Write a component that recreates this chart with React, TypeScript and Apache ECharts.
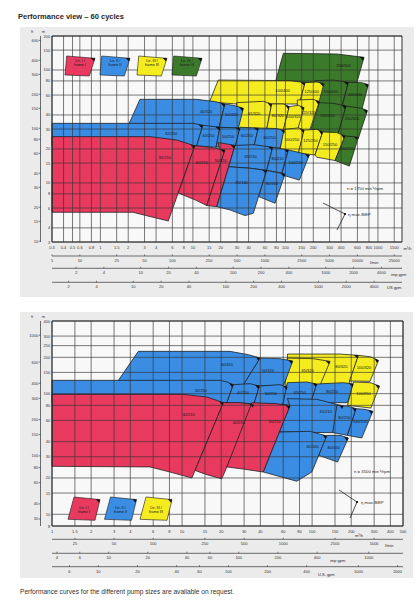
import React, { useEffect, useRef } from "react";
import * as echarts from "echarts";

type Pt = [number, number];
type Region = { size: string; frame: number; outline: Pt[] };
type FlowRow = { ticks: number[]; factor: number; offset: number };
type Spec = {
  grid: number; qMin: number; qMax: number; hMin: number; hMax: number;
  flowTicks: number[]; headTicks: number[]; feetTicks: number[]; rows: FlowRow[];
};

const titleText = "Performance view – 60 cycles";
const footerText = "Performance curves for the different pump sizes are available on request.";

const frameColors = ["#e83a5e", "#3a8de3", "#f5ec20", "#3c7a2b"];
const frameLabels = [["Ltr. I /", "frame I"], ["Ltr. II /", "frame II"], ["Ltr. III /", "frame III"], ["Ltr. IV /", "frame IV"]];

// unit conversions to m³/h and m
const M3H_PER_LMIN = 0.06;
const M3H_PER_IMPGPM = 0.272765;
const M3H_PER_USGPM = 0.227125;
const M_PER_FT = 0.3048;

// ---- 1750 rpm chart axes ----
const flow1750Ticks = [0.3, 0.4, 0.5, 0.6, 0.8, 1, 1.5, 2, 3, 4, 6, 8, 10, 15, 20, 30, 40, 60, 80, 100, 150, 200, 300, 400, 600, 800, 1000, 1500];
const head1750Ticks = [3, 4, 6, 8, 10, 15, 20, 30, 40, 60, 80, 100, 150, 200];
const feet1750Ticks = [10, 15, 20, 30, 40, 60, 80, 100, 150, 200, 300, 400, 600];
const lmin1750Ticks = [5, 10, 25, 50, 100, 250, 500, 1000, 2500, 5000, 10000, 25000];
const imp1750Ticks = [2, 4, 10, 20, 40, 100, 200, 400, 1000, 2000, 4000];
const us1750Ticks = [2, 4, 10, 20, 40, 100, 200, 400, 1000, 2000, 4000];

// ---- 3500 rpm chart axes ----
const flow3500Ticks = [1, 1.5, 2, 3, 4, 6, 8, 10, 15, 20, 30, 40, 60, 80, 100, 150, 200, 300, 400, 500];
const head3500Ticks = [8, 10, 15, 20, 30, 40, 60, 80, 100, 150, 200, 250, 300, 400];
const feet3500Ticks = [30, 40, 60, 80, 100, 150, 200, 300, 400, 600, 1000];
const lmin3500Ticks = [25, 50, 100, 250, 500, 1000, 2500, 5000];
const imp3500Ticks = [4, 6, 10, 20, 40, 60, 100, 200, 400, 1000];
const us3500Ticks = [6, 10, 20, 40, 60, 100, 200, 400, 1000, 2000];

// ---- pump size ranges, Q [m³/h], H [m], back to front ----
const regions1750: Region[] = [
  { size: "200/500", frame: 4, outline: [[77.2, 76.2], [95, 140.5], [358, 138.6], [707, 129.5], [589, 76.2]] },
  { size: "150/400", frame: 4, outline: [[209, 80.5], [330, 81.5], [479, 77.8], [406, 47.4], [200, 47.4]] },
  { size: "200/400", frame: 4, outline: [[479, 77.8], [668, 77.3], [788, 74.2], [668, 44.3], [406, 45.8]] },
  { size: "100/400", frame: 3, outline: [[15.1, 52.1], [18.8, 81.5], [112, 80.5], [163, 77.3], [141.5, 50], [29.7, 50]] },
  { size: "125/400", frame: 3, outline: [[163, 77.3], [218, 78.3], [261, 75.7], [227, 50], [141.5, 50]] },
  { size: "40/320", frame: 2, outline: [[1.96, 31.1], [2.68, 55], [11, 55], [17.3, 52.5], [22.2, 50], [19.2, 31.1]] },
  { size: "65/320", frame: 3, outline: [[29.7, 51.4], [57.7, 52.8], [71, 50], [62.7, 29.8], [31, 29.8]] },
  { size: "50/320", frame: 2, outline: [[22.2, 50], [28.5, 48.3], [35.1, 45.8], [31, 30.5], [19.2, 31.1]] },
  { size: "80/320", frame: 3, outline: [[71, 50], [95, 50], [110, 47.4], [95, 29.4], [62.7, 29.8]] },
  { size: "125/320", frame: 3, outline: [[134.6, 54.3], [200, 55], [233, 52.5], [178, 27.5], [134.6, 27.5]] },
  { size: "100/320", frame: 3, outline: [[110, 47.4], [138, 48.7], [159, 46.4], [135, 29.4], [95, 29.4]] },
  { size: "150/320", frame: 4, outline: [[233, 51.4], [330, 50.7], [452, 48], [365, 25.7], [178, 25.7]] },
  { size: "200/320", frame: 4, outline: [[452, 48], [668, 45.8], [769, 43.7], [614, 24.8], [358, 26.6], [383, 29.4]] },
  { size: "32/250", frame: 2, outline: [[0.3, 33.7], [10.1, 33.7], [12.8, 32.4], [11, 21.3], [0.3, 21.3]] },
  { size: "40/250", frame: 2, outline: [[12.8, 32.4], [19.6, 31.1], [17.8, 20.7], [11, 21.3]] },
  { size: "50/250", frame: 2, outline: [[19.6, 31.1], [32.3, 30.7], [28.8, 21.3], [17.8, 20.7]] },
  { size: "65/250", frame: 2, outline: [[32.3, 31.1], [51, 30.7], [45.8, 21.3], [28.8, 21.3]] },
  { size: "80/250", frame: 2, outline: [[51, 30.7], [80.5, 30.3], [99, 29], [87.4, 20.3], [45.8, 21.3]] },
  { size: "100/250", frame: 3, outline: [[96.6, 29.8], [138, 30.7], [159, 29.4], [138, 18.3], [87.4, 19.6]] },
  { size: "125/250", frame: 3, outline: [[159, 29.4], [218, 29.8], [253, 28.3], [209, 17.7], [138, 18.3]] },
  { size: "150/250", frame: 3, outline: [[253, 28.3], [358, 27.9], [441, 26.1], [344, 15.8], [218, 16.9], [209, 17.7]] },
  { size: "200/250", frame: 4, outline: [[441, 26.1], [614, 25.4], [491, 14.1], [344, 15.8]] },
  { size: "32/210", frame: 1, outline: [[0.3, 25.7], [3.44, 25.7], [6.68, 24], [10.5, 21.3], [5.42, 4.61], [3.44, 5.04], [2.25, 5.5], [0.3, 5.5]] },
  { size: "40/210", frame: 1, outline: [[10.5, 21.3], [15.3, 20.7], [22.2, 19.6], [14.1, 6.3], [11, 6.98], [6.96, 8.15]] },
  { size: "50/210", frame: 1, outline: [[18.8, 22.8], [28.5, 21.5], [18.1, 6.17], [14.1, 6.3], [22.2, 19.6], [19.3, 19.7]] },
  { size: "65/210", frame: 2, outline: [[28.5, 21.5], [45.8, 21.8], [72.8, 20.7], [62.7, 12.9], [41.4, 13.5], [24.4, 13.9]] },
  { size: "80/210", frame: 2, outline: [[72.8, 20.7], [107.6, 19.6], [91.1, 12.2], [62.7, 12.9]] },
  { size: "100/210", frame: 2, outline: [[107.6, 19.6], [181.5, 17.7], [141.5, 10.6], [91.1, 11.8]] },
  { size: "65/160", frame: 2, outline: [[24.4, 13.9], [41.4, 13.5], [62.7, 12.9], [45, 5.39], [36.6, 5.14], [25.2, 5.77], [18.1, 6.17]] },
  { size: "80/160", frame: 2, outline: [[62.7, 12.9], [99, 12], [77.2, 6.61], [51.4, 7.57]] },
];

const regions3500: Region[] = [
  { size: "40/320", frame: 2, outline: [[3.24, 128.9], [4.61, 224.1], [23.4, 224.1], [32.4, 210.2], [39.8, 197.3], [29.3, 115.7], [3.24, 115.7]] },
  { size: "80/320", frame: 3, outline: [[64.6, 212.9], [164, 212.9], [227, 207.6], [190, 117.2], [64.6, 117.2]] },
  { size: "65/320", frame: 3, outline: [[64.6, 197.3], [102, 194.9], [137.5, 185.1], [115, 117.2], [62, 117.2]] },
  { size: "100/320", frame: 3, outline: [[227, 207.6], [279, 202.4], [324, 188.7], [279, 126.5], [194, 127.3]] },
  { size: "50/320", frame: 2, outline: [[39.8, 197.3], [56.7, 194.9], [71, 186.3], [60.2, 115.7], [29.3, 115.7]] },
  { size: "32/250", frame: 2, outline: [[1, 128.9], [19.6, 128.9], [22.1, 124.9], [24.8, 118.7], [22.1, 84.2], [1, 84.2]] },
  { size: "40/250", frame: 2, outline: [[24.8, 118.7], [33.4, 120.9], [39.3, 115.7], [35.8, 82.6], [22.1, 84.2]] },
  { size: "50/250", frame: 2, outline: [[39.3, 115.7], [56.7, 118.7], [64.6, 113.5], [59.5, 81], [35.8, 82.6]] },
  { size: "65/250", frame: 2, outline: [[64.6, 123.3], [91, 124.9], [108.6, 120.2], [97.7, 84.2], [59.5, 81]] },
  { size: "80/250", frame: 2, outline: [[108.6, 120.2], [174, 123.3], [208, 120.2], [187, 84.2], [97.7, 84.2]] },
  { size: "100/250", frame: 3, outline: [[208, 124.9], [279, 123.3], [330, 115.7], [283, 76], [187, 80]] },
  { size: "32/210", frame: 1, outline: [[1, 98.7], [10.2, 98.7], [15.5, 93.8], [20.8, 84.2], [11.9, 20], [8.08, 22.4], [5.67, 24.7], [1, 25]] },
  { size: "40/210", frame: 1, outline: [[20.8, 84.2], [27.9, 84.2], [35.8, 81], [20.2, 19.7], [15.5, 21.3], [12.6, 23.1]] },
  { size: "50/210", frame: 1, outline: [[34.5, 84.2], [53.5, 82.6], [67.7, 79], [42.2, 22.4], [30.5, 23.6], [22.1, 24.7]] },
  { size: "65/210", frame: 2, outline: [[64.6, 90.9], [108.6, 89.7], [174, 79], [144, 47.5], [56.1, 48.1], [67.7, 79]] },
  { size: "80/210", frame: 2, outline: [[155, 80], [185, 79], [218, 75.1], [187, 45.1], [144, 47.5]] },
  { size: "100/210", frame: 2, outline: [[218, 75.1], [256, 74.1], [293, 71.4], [241, 42.9], [187, 45.1]] },
  { size: "65/160", frame: 2, outline: [[56.1, 48.1], [96.5, 48.7], [130, 44.6], [99.4, 22.4], [76.2, 18.8], [42.2, 22.4]] },
  { size: "80/160", frame: 2, outline: [[130, 45.1], [164, 45.1], [190, 42.9], [157, 27.1], [112.5, 30.8]] },
];

const spec1750: Spec = {
  grid: 0, qMin: 0.3, qMax: 1820, hMin: 3, hMax: 200,
  flowTicks: flow1750Ticks, headTicks: head1750Ticks, feetTicks: feet1750Ticks,
  rows: [
    { ticks: lmin1750Ticks, factor: M3H_PER_LMIN, offset: 14 },
    { ticks: imp1750Ticks, factor: M3H_PER_IMPGPM, offset: 26.3 },
    { ticks: us1750Ticks, factor: M3H_PER_USGPM, offset: 40.3 },
  ],
};
const spec3500: Spec = {
  grid: 1, qMin: 1, qMax: 500, hMin: 8, hMax: 400,
  flowTicks: flow3500Ticks, headTicks: head3500Ticks, feetTicks: feet3500Ticks,
  rows: [
    { ticks: lmin3500Ticks, factor: M3H_PER_LMIN, offset: 13.3 },
    { ticks: imp3500Ticks, factor: M3H_PER_IMPGPM, offset: 27.3 },
    { ticks: us3500Ticks, factor: M3H_PER_USGPM, offset: 40.7 },
  ],
};

const FONT = '"Liberation Sans", Arial, Helvetica, sans-serif';
const GRID = "#333333";

function ln(x1: number, y1: number, x2: number, y2: number, stroke: string, lw: number): any {
  return { type: "line", shape: { x1, y1, x2, y2 }, style: { stroke, lineWidth: lw } };
}
function tx(text: string, x: number, y: number, size: number, align: string, fill = "#333", weight = ""): any {
  return {
    type: "text", x, y,
    style: { text, font: `${weight}${size}px ${FONT}`, fill, align, verticalAlign: "middle", textAlign: align, textVerticalAlign: "middle" },
  };
}

function axesSeries(spec: Spec): any {
  return {
    type: "custom", xAxisIndex: spec.grid, yAxisIndex: spec.grid, z: 3, silent: true, clip: false,
    data: [[spec.qMin, spec.hMin]],
    renderItem: (_p: any, api: any) => {
      const X = (q: number) => api.coord([q, spec.hMin])[0];
      const Y = (h: number) => api.coord([spec.qMin, h])[1];
      const x0 = X(spec.qMin), x1 = X(spec.qMax), y0 = Y(spec.hMin), y1 = Y(spec.hMax);
      const ch: any[] = [];
      for (const q of spec.flowTicks) {
        const x = X(q);
        ch.push(ln(x, y1, x, y0, GRID, 0.65));
        ch.push(tx(String(q), x, y0 + 5.3, 4, "center"));
      }
      for (const h of spec.headTicks) {
        const y = Y(h);
        ch.push(ln(x0, y, x1, y, GRID, 0.65));
        ch.push(tx(String(h), x0 - 1.8, y, 4, "right"));
      }
      ch.push({ type: "rect", shape: { x: x0, y: y1, width: x1 - x0, height: y0 - y1 }, style: { fill: "none", stroke: "#222", lineWidth: 0.9 } });
      const fx = x0 - 11.5;
      ch.push(ln(fx, y1, fx, y0, "#333", 0.7));
      for (const f of spec.feetTicks) {
        const y = Y(f * M_PER_FT);
        ch.push(ln(fx - 1.8, y, fx, y, "#333", 0.6));
        ch.push(tx(String(f), fx - 2.3, y, 4, "right"));
      }
      ch.push(tx("ft", fx - 8.5, y1 - 4.5, 4, "center"));
      ch.push(tx("m", x0 - 8.5, y1 - 4.5, 4, "center"));
      for (const row of spec.rows) {
        const yy = y0 + row.offset;
        ch.push(ln(x0, yy, x1, yy, "#333", 0.7));
        for (const v of row.ticks) {
          const x = X(v * row.factor);
          ch.push(ln(x, yy - 1.6, x, yy, "#333", 0.6));
          ch.push(tx(String(v), x, yy + 4.3, 4, "center"));
        }
      }
      return { type: "group", children: ch };
    },
  };
}

function along(a: number[], b: number[], d: number): number[] {
  const dx = b[0] - a[0], dy = b[1] - a[1];
  const L = Math.hypot(dx, dy) || 1;
  return [a[0] + (dx / L) * d, a[1] + (dy / L) * d];
}

function regionSeries(regions: Region[], grid: number): any {
  return {
    type: "custom", xAxisIndex: grid, yAxisIndex: grid, z: 2, silent: true, clip: false,
    data: regions.map((r) => r.outline[0]),
    renderItem: (params: any, api: any) => {
      const i = params.dataIndex;
      const r = regions[i];
      const pts = r.outline.map((p) => api.coord(p));
      let k = 0;
      pts.forEach((p: number[], j: number) => { if (p[0] - 0.5 * p[1] > pts[k][0] - 0.5 * pts[k][1]) k = j; });
      const n = pts.length;
      const c = pts[k], prev = pts[(k - 1 + n) % n], next = pts[(k + 1) % n];
      const mark = [c, along(c, prev, 4.5), along(c, next, 3.2)];
      return {
        type: "group",
        children: [
          { type: "polygon", z2: i * 2, shape: { points: pts }, style: { fill: frameColors[r.frame - 1], stroke: "#1a1a1a", lineWidth: 0.75 } },
          { type: "polygon", z2: 500 + i, shape: { points: mark }, style: { fill: "#0d0d0d" } },
        ],
      };
    },
  };
}

function labelSeries(regions: Region[], grid: number): any {
  return {
    type: "custom", xAxisIndex: grid, yAxisIndex: grid, z: 4, silent: true, clip: false,
    data: regions.map((r) => r.outline[0]),
    renderItem: (params: any, api: any) => {
      const r = regions[params.dataIndex];
      const pts = r.outline.map((p) => api.coord(p));
      const xs = pts.map((p: number[]) => p[0]);
      const ys = pts.map((p: number[]) => p[1]);
      const minX = Math.min(...xs), maxX = Math.max(...xs), minY = Math.min(...ys), maxY = Math.max(...ys);
      const w = maxX - minX, h = maxY - minY;
      const avgX = xs.reduce((a: number, b: number) => a + b, 0) / xs.length;
      const lx = w > 50 ? (avgX + maxX) / 2 : (minX + maxX) / 2;
      const ly = minY + Math.min(0.45 * h, 0.15 * h + 8);
      return tx(r.size, lx, ly, 4, "center", "#151515");
    },
  };
}

function logAxis(gridIndex: number, min: number, max: number): any {
  return {
    type: "log", logBase: 10, gridIndex, min, max,
    axisLine: { show: false }, axisTick: { show: false }, axisLabel: { show: false },
    splitLine: { show: false }, minorTick: { show: false }, minorSplitLine: { show: false },
  };
}

function gText(text: string, x: number, y: number, size: number, align = "left", fill = "#2a2a2a", weight = ""): any {
  return { ...tx(text, x, y, size, align, fill, weight), z: 10, silent: true };
}
function gRect(x: number, y: number, width: number, height: number, fill: string): any {
  return { type: "rect", z: 0, silent: true, shape: { x, y, width, height }, style: { fill } };
}

function swatch(ox: number, oy: number, frame: number, shape: number[][], textAt: number[]): any[] {
  const pts = shape.map((p) => [ox + p[0], oy + p[1]]);
  const tr = pts[1];
  return [
    { type: "polygon", z: 10, silent: true, shape: { points: pts }, style: { fill: frameColors[frame - 1], stroke: "#1a1a1a", lineWidth: 0.6 } },
    { type: "polygon", z: 11, silent: true, shape: { points: [tr, along(tr, pts[0], 4.2), along(tr, pts[2], 3.3)] }, style: { fill: "#0d0d0d" } },
    gText(frameLabels[frame - 1][0], ox + textAt[0], oy + textAt[1], 3.8, "center", "#151515"),
    gText(frameLabels[frame - 1][1], ox + textAt[0], oy + textAt[1] + 4.6, 3.8, "center", "#151515"),
  ];
}

function bepMarker(pts: number[][], tx0: number): any[] {
  const v = pts[1];
  return [
    { type: "polyline", z: 10, silent: true, shape: { points: pts }, style: { stroke: "#222", lineWidth: 0.8, fill: "none" } },
    { type: "circle", z: 10, silent: true, shape: { cx: v[0], cy: v[1], r: 1.1 }, style: { fill: "#111" } },
    gText("η max./BEP", tx0, v[1], 4.3),
  ];
}

function buildOption(): any {
  const shapeA = [[1.7, 0], [30, 2.3], [24.3, 20], [0, 19]];
  const shapeB = [[6, 0], [32, 2.6], [27, 23.3], [0, 22.3]];
  const elements: any[] = [
    gRect(20, 27, 394, 270, "#ebebeb"),
    gRect(20, 312, 393, 266, "#ebebeb"),
    gRect(52, 36, 350, 206, "#f8f8f8"),
    gRect(52, 321, 351, 205, "#f8f8f8"),
    gText(titleText, 18, 16, 7.5, "left", "#262626", "bold "),
    gText(footerText, 20, 591.5, 6.6, "left", "#333"),
    gText("m³/h", 403.5, 248.5, 4),
    gText("l/min", 370, 262, 4),
    gText("imp gpm", 391, 274, 4),
    gText("US gpm", 387, 287.5, 4),
    gText("m³/h", 355, 535, 4),
    gText("l/min", 385, 545, 4),
    gText("imp gpm", 330, 560.5, 4),
    gText("U.S. gpm", 318, 574, 4),
    gText("n = 1750 min⁻¹/rpm", 347, 188.3, 4.3),
    gText("n = 3500 min⁻¹/rpm", 354, 471.7, 4.3),
    ...bepMarker([[323, 203], [345, 214], [337, 230]], 348),
    ...bepMarker([[339, 490], [357, 502], [350, 518]], 361),
    ...swatch(65, 56, 1, shapeA, [15, 4.5]),
    ...swatch(100, 56, 2, shapeA, [15, 4.5]),
    ...swatch(137, 56, 3, shapeA, [15, 4.5]),
    ...swatch(172, 56, 4, shapeA, [15, 4.5]),
    ...swatch(68, 497, 1, shapeB, [16, 10.5]),
    ...swatch(104.5, 497, 2, shapeB, [16, 10.5]),
    ...swatch(140, 497, 3, shapeB, [16, 10.5]),
  ];
  return {
    animation: false,
    backgroundColor: "#ffffff",
    tooltip: { show: false },
    grid: [
      { left: 52, top: 36, width: 350, height: 206, show: false },
      { left: 52, top: 321, width: 351, height: 205, show: false },
    ],
    xAxis: [logAxis(0, spec1750.qMin, spec1750.qMax), logAxis(1, spec3500.qMin, spec3500.qMax)],
    yAxis: [logAxis(0, spec1750.hMin, spec1750.hMax), logAxis(1, spec3500.hMin, spec3500.hMax)],
    series: [
      regionSeries(regions1750, 0),
      axesSeries(spec1750),
      labelSeries(regions1750, 0),
      regionSeries(regions3500, 1),
      axesSeries(spec3500),
      labelSeries(regions3500, 1),
    ],
    graphic: { elements },
  };
}

export default function App() {
  const ref = useRef<HTMLDivElement>(null);
  useEffect(() => {
    if (!ref.current) return;
    const chart = echarts.init(ref.current, null, { renderer: "svg" });
    chart.setOption(buildOption());
    return () => chart.dispose();
  }, []);
  return (
    <div
      ref={ref}
      style={{ position: "absolute", left: 0, top: 0, width: 420, height: 600, background: "#ffffff" }}
    />
  );
}
